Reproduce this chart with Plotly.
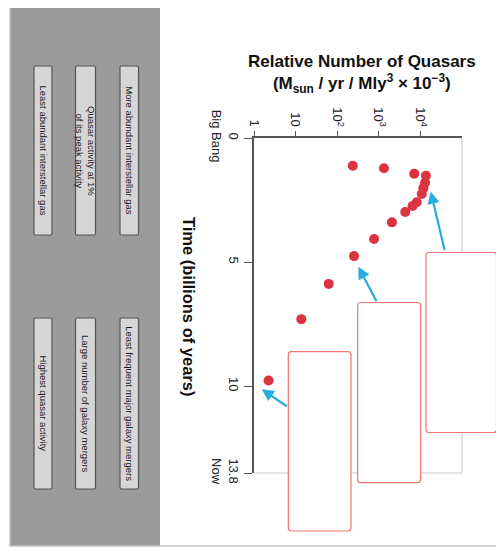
import plotly.graph_objects as go

# data
TIME_GYR = [1.12, 1.22, 1.44, 1.52, 1.80, 2.02, 2.26, 2.59, 2.74, 2.98, 3.40, 4.07, 4.76, 5.88, 7.30, 9.77]
QUASARS = [240, 1350, 7240, 13800, 13200, 12000, 11000, 8300, 6600, 4400, 2100, 780, 257, 63, 13.8, 2.24]

X_TICKS = [1, 10, 100, 1000, 10000]
X_LABELS = ["1", "10", "10<sup>2</sup>", "10<sup>3</sup>", "10<sup>4</sup>"]
Y_TICKS = [0, 5, 10, 13.5]
Y_LABELS = ["0<br>Big Bang", "5", "10", "13.8<br>Now"]

TOP_NOTES = ["Least abundant interstellar gas",
             "Quasar activity at 1%<br>of its peak activity",
             "More abundant interstellar gas"]
BOTTOM_NOTES = ["Highest quasar activity",
                "Large number of galaxy mergers",
                "Least frequent major galaxy mergers"]

W, H = 504, 553
OFF = 8  # page body margin, shift everything back by it
FONT = "Liberation Sans, Arial, sans-serif"


def px(x):
    return (x - OFF) / W


def py(y):
    return 1 - (y - OFF) / H


def rounded_box(x0, y0, x1, y1, r=3):
    # rounded rectangle path in paper coords, from pixel corners
    rx, ry = r / W, r / H
    a, b, c, d = px(x0), px(x1), py(y1), py(y0)
    return (f"M {a + rx},{d} L {b - rx},{d} Q {b},{d} {b},{d - ry} "
            f"L {b},{c + ry} Q {b},{c} {b - rx},{c} L {a + rx},{c} "
            f"Q {a},{c} {a},{c + ry} L {a},{d - ry} Q {a},{d} {a + rx},{d} Z")


fig = go.Figure()
fig.add_trace(go.Scatter(
    x=QUASARS, y=TIME_GYR, mode="markers",
    marker=dict(size=10, color="#dc3340"),
    hoverinfo="skip", showlegend=False, cliponaxis=False,
))

shapes = []
# outer frame and grey side panel
shapes.append(dict(type="rect", xref="paper", yref="paper", x0=px(10), x1=px(160), y0=py(546), y1=py(5),
                   fillcolor="#9b9b9b", line=dict(width=0), layer="below"))
shapes.append(dict(type="rect", xref="paper", yref="paper", x0=px(10), x1=px(500.5), y0=py(546), y1=py(5),
                   line=dict(color="#c4c4c4", width=1.5), layer="above"))

# label boxes in the panel
cols = [(34, 52), (75.5, 95.5), (120, 138.5)]
rows = [(66, 235, TOP_NOTES), (318, 489, BOTTOM_NOTES)]
annotations = []
for y0, y1, notes in rows:
    for (x0, x1), txt in zip(cols, notes):
        shapes.append(dict(type="path", xref="paper", yref="paper", path=rounded_box(x0, y0, x1, y1, 1.5),
                           fillcolor="#d6d6d6", line=dict(color="#555555", width=1.2), layer="below"))
        annotations.append(dict(x=px((x0 + x1) / 2), y=py((y0 + y1) / 2), xref="paper", yref="paper",
                                xanchor="center", yanchor="middle",
                                text=txt, showarrow=False, textangle=90,
                                font=dict(family=FONT, size=9.5, color="#1a1a1a")))

# light right/bottom plot frame
shapes.append(dict(type="line", xref="x domain", yref="y domain", x0=1, x1=1, y0=0, y1=1,
                   line=dict(color="#cccccc", width=1.2), layer="above"))
shapes.append(dict(type="line", xref="x domain", yref="y domain", x0=0, x1=1, y0=0, y1=0,
                   line=dict(color="#cccccc", width=1.2), layer="above"))

# empty callout boxes
for x0, y0, x1, y1 in [(426, 252.5, 496.5, 432.5), (357.7, 302.5, 420.7, 482.7), (288.3, 351.7, 351, 531)]:
    shapes.append(dict(type="path", xref="paper", yref="paper", path=rounded_box(x0, y0, x1, y1, 3),
                       fillcolor="white", line=dict(color="#f27373", width=1.2), layer="above"))

# arrows (head pixel, tail pixel)
for hx, hy, tx, ty in [(261.7, 389.3, 288.3, 407.3), (358.3, 266.7, 377.3, 302.7), (430.7, 191.7, 445, 251.7)]:
    annotations.append(dict(x=px(hx), y=py(hy), xref="paper", yref="paper", ax=tx - hx, ay=ty - hy,
                            axref="pixel", ayref="pixel", text="", showarrow=True,
                            arrowhead=2, arrowsize=1.1, arrowwidth=2.2, arrowcolor="#29abe2", standoff=0))

# titles
annotations.append(dict(x=px(362), y=py(74), xref="paper", yref="paper", showarrow=False,
                        xanchor="center", yanchor="middle",
                        text="<b>Relative Number of Quasars</b><br><b>(M<sub>sun</sub> / yr / Mly<sup>3</sup> \u00d7 10<sup>\u22123</sup>)</b>",
                        font=dict(family=FONT, size=17, color="#111111")))
annotations.append(dict(x=px(189), y=py(306), xref="paper", yref="paper", showarrow=False, textangle=90,
                        xanchor="center", yanchor="middle",
                        text="<b>Time (billions of years)</b>",
                        font=dict(family=FONT, size=16.5, color="#111111")))

fig.update_layout(
    width=W, height=H, margin=dict(l=0, r=0, t=0, b=0, autoexpand=False),
    paper_bgcolor="white", plot_bgcolor="white",
    shapes=shapes, annotations=annotations,
    xaxis=dict(type="log", range=[0, 5.01], side="top", domain=[px(254), px(462)], automargin=False,
               tickvals=X_TICKS, ticktext=X_LABELS, tickangle=90,
               ticks="outside", ticklen=5, tickcolor="#555555",
               showline=True, linecolor="#555555", linewidth=1.5, showgrid=False, zeroline=False,
               tickfont=dict(family=FONT, size=13, color="#222222")),
    yaxis=dict(range=[13.5, 0], domain=[py(473), py(138)], automargin=False,
               tickvals=Y_TICKS, ticktext=Y_LABELS, tickangle=90,
               ticks="outside", ticklen=8, tickcolor="#555555",
               showline=True, linecolor="#555555", linewidth=1.5, showgrid=False, zeroline=False,
               tickfont=dict(family=FONT, size=13, color="#222222")),
)

fig.write_html("out.html")
